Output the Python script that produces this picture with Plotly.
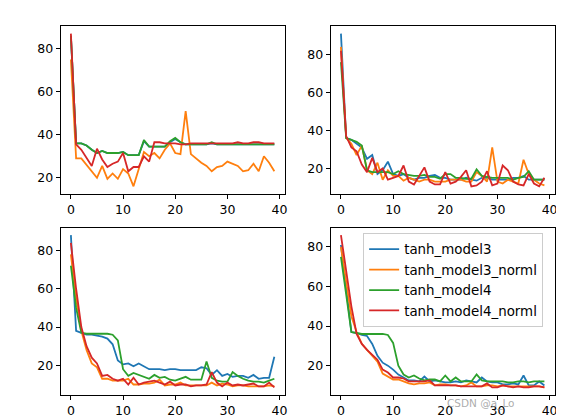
import plotly.graph_objects as go

epochs = list(range(40))
names = ['tanh_model3', 'tanh_model3_norml', 'tanh_model4', 'tanh_model4_norml']
colors = ['#1f77b4', '#ff7f0e', '#2ca02c', '#d62728']

# panel 1 (top left)
p1_model3 = [86, 36, 36, 35, 33, 31.5, 32.5, 31.5, 31.5, 31.5, 32, 30.5, 30.5, 30.5, 37, 34.5, 34.5, 34.5, 34.5, 36.5,
             38, 36.5, 35.5, 35.5, 35.5, 35.5, 35.5, 36, 35.5, 35.5, 35.5, 35.5, 35.5, 35.5, 35.5, 35.5, 35.5, 35.5, 35.5, 35.5]
p1_model3_norml = [75, 29, 29, 26, 23, 20, 25.5, 19.5, 22, 19.5, 24, 22, 16, 24, 32, 30, 31.5, 29, 33, 36,
                   31.5, 31, 51, 31, 29, 27, 25.5, 23, 25, 25.5, 27.5, 26.5, 25.5, 23, 23.5, 26.5, 23, 30, 27, 23]
p1_model4 = [86, 36, 36, 35, 33, 31.5, 32.5, 31.5, 31.5, 31.5, 32, 30.5, 30.5, 30.5, 37.5, 34.5, 34.5, 34.5, 34.5, 37,
             38.5, 36.5, 35.5, 35.5, 35.5, 35.5, 35.5, 36.5, 35.5, 35.5, 35.5, 35.5, 35.5, 35.5, 35.5, 35.5, 35.5, 35.5, 35.5, 35.5]
p1_model4_norml = [87, 35.5, 33, 29, 25.5, 33.5, 28.5, 25, 26.5, 27.5, 31.5, 23, 25, 25, 30, 27.5, 36.5, 36.5, 36, 36,
                   36, 35.5, 35.5, 36, 36, 36, 36, 36, 36, 36, 36, 36, 36.5, 36, 36, 36.5, 36.5, 36, 36, 36]

# panel 2 (top right)
p2_model3 = [91, 36, 35, 33, 31, 25, 27, 17, 19, 23.5, 17, 16, 17, 15, 14, 15, 15, 16, 16.5, 15,
             15, 14, 14, 14, 15, 14, 13.5, 15, 15, 14, 14, 14, 14, 15, 15, 16, 14, 14, 14, 14]
p2_model3_norml = [84, 36, 33, 27, 32, 19, 17, 23, 14, 19, 16, 16, 13.5, 15, 14, 13, 14, 14, 13, 13,
                   13, 14, 14, 14, 13, 13, 18, 16, 13, 31, 13, 12, 14, 13, 12, 24.5, 17, 14, 12, 11]
p2_model4 = [76, 36, 35, 34, 32, 19, 18, 18, 18, 18, 17, 18.5, 17, 16.5, 16, 16, 16.5, 15.5, 15.5, 14.5,
             17, 17, 15, 15, 14.5, 14.5, 19.5, 16, 15.5, 15, 15, 15, 15, 14, 15, 15.5, 18.5, 14, 14, 14]
p2_model4_norml = [82, 37, 31, 29, 22, 18, 25.5, 18, 20, 14, 15, 16, 21.5, 13, 11.5, 16, 20.5, 13, 11.5, 11.5,
                   18, 12, 13, 15.5, 19, 10.5, 11, 13, 18.5, 11, 12, 21.5, 19, 13, 11.5, 11, 17, 12, 10.5, 15]

# panel 3 (bottom left)
p3_model3 = [88, 38, 37, 36, 36, 35.5, 35, 34, 31, 22.5, 20.5, 21, 19.5, 21, 19.5, 18, 18, 18, 17.5, 18,
             18, 17.5, 17.5, 17.5, 17.5, 19, 18.5, 15, 17.5, 14.5, 15.5, 14, 14.5, 14.5, 13.5, 15, 13, 13.5, 13.5, 24.5]
p3_model3_norml = [78, 55, 38, 28, 21, 19, 13, 13, 12, 12, 12, 13, 10, 10, 10.5, 10.5, 11, 12.5, 9.5, 10,
                   10, 11, 9.5, 9.5, 9.5, 9.5, 9.5, 11, 9.5, 10.5, 10, 9, 9.5, 9.5, 9, 9, 9, 9, 9.5, 9]
p3_model4 = [72, 50, 37, 36.5, 36.5, 36.5, 36.5, 36.5, 36, 33, 18, 14.5, 16, 15, 14, 13, 15, 13.5, 14, 12.5,
             12, 13, 14, 12.5, 12.5, 12.5, 22, 13.5, 12, 11.5, 11.5, 16.5, 14.5, 13, 12, 11.5, 11.5, 11, 12, 13]
p3_model4_norml = [84, 60, 40, 30, 24, 21, 14.5, 15, 13, 12, 13, 10, 13.5, 10, 11, 11.5, 12, 11, 10, 11.5,
                   9.5, 10, 10, 9, 9.5, 9.5, 10, 16.5, 11, 9, 11, 9.5, 10, 9.5, 10, 10.5, 9, 9, 11, 8.5]

# panel 4 (bottom right)
p4_model3 = [81, 58, 37, 36.5, 35.5, 35, 31, 25, 21.5, 20, 18, 15.5, 14, 12.5, 12.5, 12, 14.5, 12, 12.5, 12,
             11.5, 11.5, 12, 11.5, 12.5, 12, 11.5, 14, 12, 11.5, 11.5, 10.5, 10.5, 11, 10.5, 15, 10, 10, 12, 10]
p4_model3_norml = [80, 62, 45, 37, 31, 28, 25, 22, 16, 14.5, 13, 13, 12, 11, 10.5, 11, 11, 11.5, 10, 10.5,
                   10.5, 10, 10, 9.5, 10, 11.5, 9.5, 9.5, 10, 10, 9.5, 10, 9.5, 9.5, 9.5, 9.5, 9.5, 9.5, 9.5, 9]
p4_model4 = [75, 55, 37, 36.5, 36, 36, 36, 36, 36, 35.5, 31.5, 20, 15.5, 14, 15, 13.5, 12.5, 13, 13, 12,
             15, 12, 14, 12, 12, 12, 15.5, 12.5, 12, 12, 12, 12, 11.5, 11.5, 12, 12, 11.5, 12, 12, 12]
p4_model4_norml = [86, 67, 50, 36, 31, 28, 25.5, 23, 18, 16.5, 14, 14, 13.5, 12, 12, 12, 12, 12.5, 10, 10,
                   10, 10, 10, 9.5, 9.5, 9.5, 9.5, 9.5, 11, 9, 9, 10, 9.5, 9, 9.5, 9, 9, 9.5, 9.5, 9]

panels = [
    [p1_model3, p1_model3_norml, p1_model4, p1_model4_norml],
    [p2_model3, p2_model3_norml, p2_model4, p2_model4_norml],
    [p3_model3, p3_model3_norml, p3_model4, p3_model4_norml],
    [p4_model3, p4_model3_norml, p4_model4, p4_model4_norml],
]

W, H = 564, 418
# axes boxes in pixels (left, right, top, bottom), matplotlib-like 2x2 grid
boxes = [(53, 278, 18, 186), (324.5, 549.5, 18, 186),
         (53, 278, 219.5, 387), (324.5, 549.5, 219.5, 387)]

fig = go.Figure()
font = dict(family='DejaVu Sans', size=12.5, color='#000000')

for k, (series, box) in enumerate(zip(panels, boxes)):
    sfx = '' if k == 0 else str(k + 1)
    for j, ys in enumerate(series):
        fig.add_trace(go.Scatter(x=epochs, y=ys, mode='lines', name=names[j],
                                 line=dict(color=colors[j], width=1.8),
                                 xaxis='x' + sfx, yaxis='y' + sfx,
                                 showlegend=(k == 3)))
    allv = [v for s in series for v in s]
    lo, hi = min(allv), max(allv)
    pad = 0.05 * (hi - lo)
    l, r, t, b = box
    axstyle = dict(showline=True, mirror=True, linecolor='black', linewidth=1,
                   ticks='outside', ticklen=4, tickcolor='black', showgrid=False,
                   zeroline=False, tickfont=font)
    fig.update_layout(**{
        'xaxis' + sfx: dict(domain=[l / W, r / W], anchor='y' + sfx,
                            range=[-1.95, 40.95], tickvals=[0, 10, 20, 30, 40], **axstyle),
        'yaxis' + sfx: dict(domain=[1 - b / H, 1 - t / H], anchor='x' + sfx,
                            range=[lo - pad, hi + pad], tickvals=[20, 40, 60, 80], **axstyle),
    })

fig.update_layout(
    width=W, height=H, margin=dict(l=0, r=0, t=0, b=0),
    plot_bgcolor='white', paper_bgcolor='white', font=font,
    legend=dict(x=538 / W, y=1 - 225 / H, xanchor='right', yanchor='top',
                bgcolor='rgba(255,255,255,0.8)', bordercolor='#cccccc', borderwidth=1,
                font=dict(family='DejaVu Sans', size=13.4), tracegroupgap=0, itemwidth=30),
    annotations=[dict(text='CSDN @a_Lo', x=512 / W, y=1 - 404 / H, xref='paper', yref='paper',
                      showarrow=False, font=dict(family='DejaVu Sans', size=10.5, color='rgba(150,150,150,0.8)'))],
)

fig.write_html('out.html')
